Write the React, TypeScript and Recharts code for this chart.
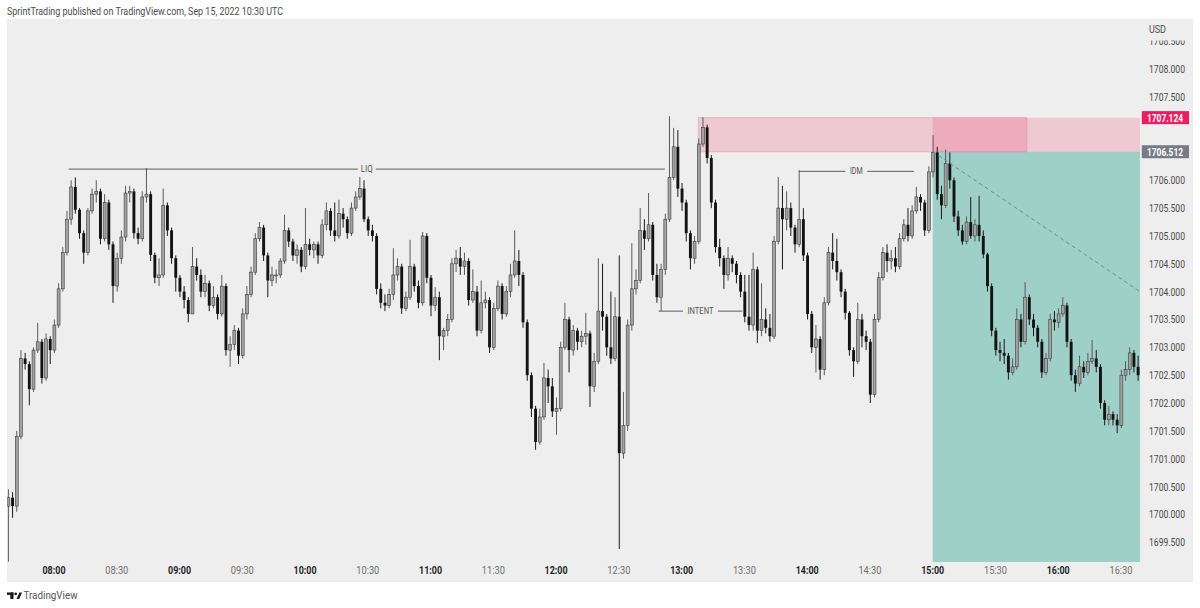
import React from 'react';
import { ComposedChart, XAxis, YAxis, Bar, ReferenceArea, ReferenceLine } from 'recharts';

// ---- data (1 candle = 2 minutes, minutes counted from 08:00) ----
const firstCandleMinute = -22;
const candleMinutes = 2;
const firstOpen = 1700.15;

const closes = [
  1700.30, 1700.15, 1701.40, 1702.80, 1702.70, 1702.25, 1702.95, 1703.10, 1702.45, 1703.15,
  1702.95, 1703.40, 1704.05, 1704.70, 1705.30, 1705.88, 1705.47, 1705.05, 1704.70, 1705.45,
  1705.75, 1705.80, 1704.95, 1705.60, 1704.85, 1704.10, 1704.60, 1704.98, 1705.77, 1705.80,
  1705.05, 1704.95, 1705.70, 1705.75, 1704.66, 1704.25, 1704.30, 1705.55, 1705.10, 1704.60,
  1704.25, 1704.00, 1703.85, 1703.60, 1704.45, 1704.30, 1704.00, 1704.15, 1703.75, 1703.90,
  1703.60, 1704.10, 1702.95, 1703.05, 1703.30, 1702.85, 1703.60, 1703.95, 1704.35, 1704.95,
  1705.15, 1704.65, 1704.20, 1704.30, 1704.30, 1704.55, 1705.10, 1704.90, 1704.65, 1704.75,
  1704.45, 1704.85, 1704.75, 1704.85, 1704.65, 1705.20, 1705.45, 1705.10, 1705.00, 1705.40,
  1705.30, 1705.05, 1705.50, 1705.70, 1705.85, 1705.30, 1705.10, 1705.00, 1704.05, 1703.80,
  1703.75, 1703.95, 1704.30, 1704.45, 1703.70, 1703.90, 1704.45, 1704.10, 1703.80, 1705.00,
  1704.25, 1703.75, 1703.90, 1703.20, 1703.30, 1703.50, 1704.50, 1704.60, 1704.45, 1704.55,
  1703.85, 1704.00, 1703.30, 1703.80, 1703.85, 1703.00, 1703.70, 1704.10, 1703.60, 1704.00,
  1704.30, 1704.55, 1704.30, 1703.45, 1702.50, 1701.90, 1701.30, 1701.75, 1702.45, 1702.30,
  1701.85, 1701.90, 1703.00, 1703.50, 1702.95, 1703.30, 1703.10, 1703.20, 1703.25, 1702.30,
  1702.75, 1703.65, 1703.55, 1703.00, 1702.80, 1703.55, 1701.10, 1701.60, 1703.40, 1704.05,
  1704.20, 1705.10, 1704.95, 1705.20, 1704.30, 1703.90, 1704.40, 1705.30, 1706.05, 1706.60,
  1705.85, 1705.60, 1705.05, 1704.60, 1704.90, 1706.65, 1706.95, 1706.40, 1705.60, 1704.80,
  1704.60, 1704.30, 1704.60, 1704.50, 1704.30, 1704.00, 1703.55, 1703.40, 1704.40, 1703.30,
  1703.50, 1703.35, 1703.20, 1704.90, 1705.50, 1705.30, 1705.50, 1705.15, 1704.85, 1705.30,
  1704.65, 1703.60, 1703.00, 1703.15, 1702.60, 1703.80, 1704.70, 1704.55, 1704.35, 1704.00,
  1703.62, 1702.95, 1702.75, 1703.50, 1703.20, 1703.10, 1702.15, 1703.50, 1704.25, 1704.70,
  1704.55, 1704.60, 1704.45, 1704.95, 1705.20, 1705.00, 1705.45, 1705.70, 1705.60, 1705.10,
  1706.15, 1706.50, 1705.75, 1705.55, 1706.30, 1706.00, 1705.35, 1705.10, 1704.90, 1705.25,
  1705.00, 1705.20, 1705.00, 1704.67, 1704.10, 1703.30, 1702.95, 1702.90, 1702.85, 1702.55,
  1702.65, 1703.50, 1703.10, 1703.90, 1703.50, 1703.35, 1703.10, 1702.55, 1702.80, 1703.50,
  1703.45, 1703.60, 1703.75, 1703.10, 1702.50, 1702.35, 1702.65, 1702.55, 1702.75, 1702.80,
  1702.65, 1702.00, 1701.70, 1701.80, 1701.70, 1701.60, 1702.50, 1702.60, 1702.90, 1702.65, 1702.50,
];

const highs = [
  1700.45, 1700.40, 1701.50, 1702.95, 1702.90, 1702.75, 1703.00, 1703.44, 1703.15, 1703.25,
  1703.20, 1703.50, 1704.15, 1704.80, 1705.45, 1706.00, 1706.05, 1705.50, 1705.10, 1705.50,
  1705.85, 1706.00, 1705.85, 1705.75, 1705.65, 1704.90, 1704.70, 1705.10, 1705.90, 1705.90,
  1705.85, 1705.15, 1705.80, 1706.22, 1705.80, 1704.70, 1704.60, 1705.85, 1705.60, 1705.15,
  1704.65, 1704.30, 1704.10, 1703.90, 1704.80, 1704.60, 1704.40, 1704.30, 1704.20, 1704.10,
  1703.95, 1704.30, 1704.15, 1703.20, 1703.40, 1703.35, 1703.70, 1704.10, 1704.45, 1705.05,
  1705.25, 1705.20, 1704.70, 1704.45, 1704.40, 1704.60, 1705.38, 1705.15, 1704.95, 1704.85,
  1704.80, 1705.50, 1704.95, 1704.90, 1704.90, 1705.30, 1705.60, 1705.50, 1705.60, 1705.65,
  1705.50, 1705.35, 1705.60, 1705.80, 1706.06, 1706.00, 1705.35, 1705.20, 1705.05, 1704.15,
  1703.95, 1704.05, 1704.78, 1704.60, 1704.50, 1704.00, 1704.93, 1704.50, 1704.20, 1705.07,
  1705.05, 1704.30, 1704.08, 1704.00, 1703.35, 1703.60, 1704.60, 1704.75, 1704.80, 1704.70,
  1704.60, 1704.40, 1704.10, 1704.20, 1704.00, 1703.90, 1703.80, 1704.20, 1704.15, 1704.10,
  1704.50, 1705.10, 1704.75, 1704.35, 1703.50, 1702.55, 1701.95, 1701.90, 1702.72, 1702.60,
  1702.45, 1702.10, 1703.10, 1703.80, 1703.55, 1703.40, 1703.35, 1703.30, 1703.62, 1703.30,
  1702.90, 1704.60, 1704.50, 1703.60, 1704.00, 1703.90, 1704.65, 1702.20, 1703.50, 1704.87,
  1704.40, 1705.50, 1705.30, 1705.77, 1705.25, 1704.50, 1704.50, 1705.40, 1707.15, 1706.94,
  1706.90, 1705.95, 1705.65, 1705.10, 1705.00, 1706.75, 1707.13, 1707.00, 1706.45, 1705.65,
  1704.95, 1704.65, 1704.80, 1704.65, 1704.55, 1704.35, 1704.30, 1704.30, 1704.70, 1704.45,
  1704.15, 1703.70, 1703.60, 1705.00, 1706.06, 1705.90, 1705.80, 1705.60, 1705.20, 1706.18,
  1705.50, 1704.70, 1703.65, 1703.40, 1703.20, 1703.90, 1704.80, 1705.05, 1704.95, 1704.40,
  1704.05, 1703.65, 1703.00, 1703.80, 1703.60, 1703.30, 1703.15, 1703.60, 1704.35, 1704.80,
  1704.85, 1704.75, 1704.80, 1705.05, 1705.30, 1705.50, 1705.55, 1705.88, 1705.75, 1705.65,
  1706.25, 1706.81, 1706.60, 1705.90, 1706.55, 1706.50, 1706.05, 1705.45, 1705.20, 1705.35,
  1705.70, 1705.30, 1705.72, 1705.10, 1704.70, 1704.15, 1703.35, 1703.10, 1703.15, 1702.90,
  1702.80, 1703.70, 1703.60, 1704.17, 1703.95, 1703.60, 1703.40, 1703.15, 1702.90, 1703.60,
  1703.65, 1703.70, 1703.90, 1703.80, 1703.15, 1702.60, 1702.85, 1702.75, 1702.90, 1703.13,
  1702.95, 1702.70, 1702.05, 1701.95, 1701.85, 1701.80, 1702.60, 1702.75, 1703.00, 1702.95, 1702.85,
];

const lows = [
  1699.15, 1699.94, 1700.05, 1701.35, 1702.60, 1701.96, 1702.20, 1702.90, 1702.35, 1702.40,
  1702.70, 1702.90, 1703.35, 1704.00, 1704.65, 1705.20, 1705.40, 1704.95, 1704.50, 1704.65,
  1705.40, 1705.60, 1704.85, 1704.90, 1704.75, 1703.80, 1704.00, 1704.50, 1704.90, 1705.60,
  1704.95, 1704.85, 1704.90, 1705.60, 1704.55, 1704.15, 1704.10, 1704.25, 1705.00, 1704.50,
  1704.00, 1703.90, 1703.70, 1703.45, 1703.60, 1704.20, 1703.90, 1703.90, 1703.65, 1703.70,
  1703.50, 1703.55, 1702.85, 1702.65, 1702.95, 1702.70, 1702.80, 1703.50, 1703.90, 1704.30,
  1704.90, 1704.55, 1703.90, 1704.10, 1704.15, 1704.25, 1704.50, 1704.80, 1704.55, 1704.50,
  1704.35, 1704.40, 1704.65, 1704.60, 1704.50, 1704.60, 1705.10, 1705.00, 1704.90, 1704.95,
  1705.15, 1704.95, 1705.00, 1705.45, 1705.65, 1705.25, 1705.00, 1704.90, 1703.95, 1703.70,
  1703.65, 1703.70, 1703.85, 1704.20, 1703.60, 1703.65, 1703.85, 1704.00, 1703.70, 1703.75,
  1704.15, 1703.56, 1703.65, 1702.77, 1702.95, 1703.20, 1703.45, 1704.35, 1704.30, 1704.30,
  1703.75, 1703.80, 1703.20, 1703.25, 1703.70, 1702.90, 1702.95, 1703.65, 1703.50, 1703.55,
  1703.90, 1704.25, 1704.10, 1703.35, 1702.40, 1701.75, 1701.16, 1701.25, 1701.70, 1702.00,
  1701.75, 1701.43, 1701.85, 1702.95, 1702.55, 1702.85, 1702.95, 1703.00, 1703.05, 1701.93,
  1702.20, 1702.70, 1703.30, 1702.85, 1702.70, 1702.75, 1699.38, 1701.00, 1701.50, 1703.30,
  1703.95, 1704.15, 1704.75, 1704.90, 1704.20, 1703.80, 1703.65, 1704.30, 1705.25, 1706.00,
  1705.70, 1705.45, 1704.90, 1704.40, 1704.50, 1704.85, 1706.60, 1706.30, 1705.50, 1704.70,
  1704.45, 1704.05, 1704.20, 1704.35, 1704.15, 1703.90, 1703.45, 1703.30, 1703.30, 1703.08,
  1703.20, 1703.25, 1703.10, 1703.15, 1704.85, 1704.40, 1705.10, 1705.00, 1704.70, 1704.80,
  1704.55, 1703.50, 1702.90, 1702.55, 1702.42, 1702.50, 1703.75, 1704.40, 1704.20, 1703.90,
  1703.50, 1702.85, 1702.47, 1702.70, 1703.00, 1702.95, 1702.00, 1702.10, 1703.45, 1704.20,
  1704.35, 1704.40, 1704.35, 1704.40, 1704.90, 1704.90, 1704.95, 1705.40, 1705.45, 1705.00,
  1705.05, 1706.05, 1705.65, 1705.30, 1705.50, 1705.85, 1705.25, 1705.00, 1704.84, 1704.85,
  1704.95, 1704.90, 1704.90, 1704.60, 1704.00, 1703.20, 1702.85, 1702.75, 1702.70, 1702.42,
  1702.50, 1702.60, 1703.00, 1703.05, 1703.40, 1703.20, 1703.00, 1702.45, 1702.50, 1702.75,
  1703.30, 1703.35, 1703.55, 1703.00, 1702.40, 1702.20, 1702.30, 1702.45, 1702.50, 1702.70,
  1702.55, 1701.90, 1701.60, 1701.60, 1701.60, 1701.46, 1701.55, 1702.40, 1702.50, 1702.55, 1702.40,
];

const timeTicks = [0, 30, 60, 90, 120, 150, 180, 210, 240, 270, 300, 330, 360, 390, 420, 450, 480, 510];
const timeLabels = ['08:00', '08:30', '09:00', '09:30', '10:00', '10:30', '11:00', '11:30', '12:00',
  '12:30', '13:00', '13:30', '14:00', '14:30', '15:00', '15:30', '16:00', '16:30'];
const priceTicks = [1699.5, 1700, 1700.5, 1701, 1701.5, 1702, 1702.5, 1703, 1703.5, 1704,
  1704.5, 1705, 1705.5, 1706, 1706.5, 1707, 1707.5, 1708, 1708.5];

// drawings (time in minutes from 08:00, price in USD)
const liqLine = { start: 7, end: 292, price: 1706.2, text: 'LIQ' };
const intentLine = { start: 289, end: 329, price: 1703.65, text: 'INTENT' };
const idmLine = { start: 356, end: 411, price: 1706.16, text: 'IDM' };
const supplyZone = { start: 308, end: 465, low: 1706.512, high: 1707.124 };
const shortPosition = { start: 420, entry: 1706.512, stop: 1707.124, target: 1698.9, lastPrice: 1704.0 };

// ---- view constants ----
const timeDomain: [number, number] = [-22.47, 519.1];
const priceDomain: [number, number] = [1699.146, 1708.895];
const PLOT_RIGHT = 1140;
const PANEL_BG = '#eeeeee';
const FONT = 'Roboto, "Liberation Sans", Arial, sans-serif';
const tagPrices = [shortPosition.stop, shortPosition.entry];

const candles = closes.map((c, i) => ({
  t: firstCandleMinute + candleMinutes * i,
  open: i === 0 ? firstOpen : closes[i - 1],
  close: c,
  high: highs[i],
  low: lows[i],
}));

const BODY_W = 2.9;

const CandleShape = (props: any) => {
  const { x, y, width, height, payload } = props;
  if (!payload || !Number.isFinite(y) || !Number.isFinite(height)) return null;
  const top = Math.min(y, y + height);
  const h = Math.abs(height);
  const { open, close, high, low } = payload;
  const range = high - low;
  const ppu = range > 0 ? h / range : 0;
  const yOf = (p: number) => top + (high - p) * ppu;
  const bTop = yOf(Math.max(open, close));
  const bBot = yOf(Math.min(open, close));
  const cx = x + width / 2;
  const up = close >= open;
  return (
    <g>
      <line x1={cx} x2={cx} y1={top} y2={top + h} stroke={up ? '#5a5a5a' : '#1a1a1a'} strokeWidth={1} />
      <rect x={cx - BODY_W / 2} y={bTop} width={BODY_W} height={Math.max(1, bBot - bTop)}
        fill={up ? '#a3a3a3' : '#131313'} stroke={up ? '#3c3c3c' : 'none'} strokeWidth={0.6} />
    </g>
  );
};

const PriceTick = (props: any) => {
  const { y, payload } = props;
  const v = payload.value as number;
  const isTop = v === priceTicks[priceTicks.length - 1];
  const underTag = tagPrices.some((p) => Math.abs(p - v) < 0.15);
  return (
    <g>
      {!underTag && (
        <text x={PLOT_RIGHT + 9} y={y + 4} fontSize={10.5} fill="#4a4a4a" fontFamily={FONT}
          textLength={36} lengthAdjust="spacingAndGlyphs">{v.toFixed(3)}</text>
      )}
      {isTop && (
        <g>
          <rect x={PLOT_RIGHT + 2} y={y - 19} width={50} height={18.5} fill={PANEL_BG} />
          <text x={PLOT_RIGHT + 9} y={y - 8} fontSize={10.5} fill="#4a4a4a" fontFamily={FONT}
            textLength={17} lengthAdjust="spacingAndGlyphs">USD</text>
        </g>
      )}
    </g>
  );
};

const TimeTick = (props: any) => {
  const { x, y, payload } = props;
  const idx = timeTicks.indexOf(payload.value);
  const label = timeLabels[idx] ?? '';
  const isHour = label.endsWith(':00');
  return (
    <text x={x} y={y + 12} textAnchor="middle" fontSize={10.5} fontFamily={FONT}
      fontWeight={isHour ? 700 : 400} fill={isHour ? '#1f1f1f' : '#6e6e6e'}
      textLength={23} lengthAdjust="spacingAndGlyphs">{label}</text>
  );
};

const lineLabel = (text: string, textWidth: number, gap: number) => (props: any) => {
  const vb = props.viewBox || {};
  const cx = (vb.x ?? 0) + (vb.width ?? 0) / 2;
  const cy = (vb.y ?? 0) + (vb.height ?? 0) / 2;
  return (
    <g>
      <rect x={cx - gap / 2} y={cy - 3} width={gap} height={6} fill={PANEL_BG} />
      <text x={cx} y={cy + 3} textAnchor="middle" fontSize={8.5} fill="#555" fontFamily={FONT}
        textLength={textWidth} lengthAdjust="spacingAndGlyphs">{text}</text>
    </g>
  );
};

const priceTag = (text: string, color: string) => (props: any) => {
  const vb = props.viewBox || {};
  const right = (vb.x ?? 0) + (vb.width ?? 0);
  const cy = vb.y ?? 0;
  return (
    <g>
      <rect x={right + 1.8} y={cy - 6.5} width={47.2} height={13} fill={color} />
      <text x={right + 7} y={cy + 4} fontSize={10.5} fontWeight={700} fill="#ffffff" fontFamily={FONT}
        textLength={36} lengthAdjust="spacingAndGlyphs">{text}</text>
    </g>
  );
};

export default function App() {
  return (
    <div style={{ position: 'absolute', left: 0, top: 0, width: 1200, height: 608, background: '#ffffff', overflow: 'hidden' }}>
      <div style={{ position: 'absolute', left: 7, top: 19, width: 1186, height: 563, background: PANEL_BG }} />
      <svg width={1200} height={608} style={{ position: 'absolute', left: 0, top: 0 }}>
        <text x={7} y={14.5} fontSize={11} fill="#4d4d4d" fontFamily={FONT} textLength={276}
          lengthAdjust="spacingAndGlyphs">SprintTrading published on TradingView.com, Sep 15, 2022 10:30 UTC</text>
        <g fill="#1a1a1a">
          <rect x={7} y={592.5} width={6.5} height={2.4} />
          <rect x={10.3} y={592.5} width={3.2} height={6.5} />
          <circle cx={15.7} cy={593.8} r={1.35} />
          <polygon points="16.6,599 19.2,599 22,592.5 19.4,592.5" />
        </g>
        <text x={23.5} y={599} fontSize={10.5} fill="#555" fontFamily={FONT} textLength={54}
          lengthAdjust="spacingAndGlyphs">TradingView</text>
      </svg>
      <div style={{ position: 'absolute', left: 0, top: 0 }}>
        <ComposedChart width={1200} height={608} data={candles}
          margin={{ top: 19, right: 7, bottom: 26, left: 7 }}>
          <XAxis dataKey="t" type="number" domain={timeDomain} allowDataOverflow ticks={timeTicks}
            interval={0} tick={<TimeTick />} axisLine={false} tickLine={false} tickSize={0} tickMargin={0} height={20} />
          <YAxis type="number" orientation="right" domain={priceDomain} allowDataOverflow ticks={priceTicks}
            interval={0} tick={<PriceTick />} axisLine={false} tickLine={false} width={53} />

          <ReferenceArea x1={supplyZone.start} x2={supplyZone.end} y1={supplyZone.low} y2={supplyZone.high}
            fill="#f23669" fillOpacity={0.2} stroke="#eab0c1" strokeWidth={1} ifOverflow="hidden" />
          <ReferenceArea x1={shortPosition.start} x2={timeDomain[1]} y1={shortPosition.entry} y2={shortPosition.stop}
            fill="#f23669" fillOpacity={0.2} stroke="none" ifOverflow="hidden" />
          <ReferenceArea x1={shortPosition.start} x2={timeDomain[1]} y1={shortPosition.target} y2={shortPosition.entry}
            fill="#089981" fillOpacity={0.35} stroke="none" ifOverflow="hidden" />

          <Bar dataKey={(d: any) => [d.low, d.high]} barSize={3} shape={<CandleShape />} isAnimationActive={false} />

          <ReferenceLine segment={[{ x: shortPosition.start, y: shortPosition.entry }, { x: timeDomain[1], y: shortPosition.lastPrice }]}
            stroke="#6f8f8a" strokeWidth={1} strokeDasharray="4 3" ifOverflow="extendDomain" />

          <ReferenceLine segment={[{ x: liqLine.start, y: liqLine.price }, { x: liqLine.end, y: liqLine.price }]}
            stroke="#5c5c5c" strokeWidth={1} label={lineLabel(liqLine.text, 12, 18)} />
          <ReferenceLine segment={[{ x: intentLine.start, y: intentLine.price }, { x: intentLine.end, y: intentLine.price }]}
            stroke="#5c5c5c" strokeWidth={1} label={lineLabel(intentLine.text, 26, 35)} />
          <ReferenceLine segment={[{ x: idmLine.start, y: idmLine.price }, { x: idmLine.end, y: idmLine.price }]}
            stroke="#5c5c5c" strokeWidth={1} label={lineLabel(idmLine.text, 12.7, 22)} />

          <ReferenceLine y={shortPosition.stop} stroke="none" label={priceTag(shortPosition.stop.toFixed(3), '#e91e63')} />
          <ReferenceLine y={shortPosition.entry} stroke="none" label={priceTag(shortPosition.entry.toFixed(3), '#787b86')} />
        </ComposedChart>
      </div>
    </div>
  );
}
